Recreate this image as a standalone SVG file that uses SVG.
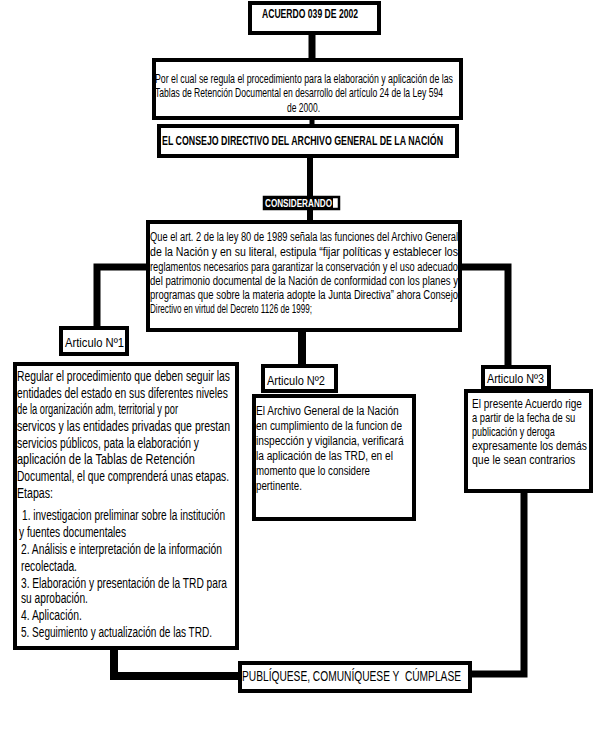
<svg xmlns="http://www.w3.org/2000/svg" width="606" height="744" viewBox="0 0 606 744">
<style>
.box{fill:#fff;stroke:#000;stroke-width:4}
.conn{fill:none;stroke:#000;stroke-linejoin:miter;stroke-linecap:butt}
text{font-family:"Liberation Sans",Arial,sans-serif;fill:#000}
.b{font-weight:bold}
.s12{font-size:12px}
.s125{font-size:12.5px}
.s13{font-size:13px}
.s14{font-size:14px}
</style>
<rect width="606" height="744" fill="#fff"/>
<g id="connectors">
<line class="conn" x1="312" y1="33" x2="312" y2="60" stroke-width="7"/>
<line class="conn" x1="312" y1="117" x2="312" y2="126" stroke-width="5"/>
<line class="conn" x1="310" y1="156" x2="310" y2="221" stroke-width="6"/>
<polyline class="conn" points="148,267 97,267 97,328" stroke-width="7"/>
<polyline class="conn" points="461,267 508,267 508,368" stroke-width="7"/>
<line class="conn" x1="302" y1="330" x2="302" y2="366" stroke-width="8"/>
<polyline class="conn" points="114,648 114,676 239,676" stroke-width="8"/>
<polyline class="conn" points="524,491 524,674 470,674" stroke-width="7"/>
</g>
<g id="acuerdo">
<rect class="box" x="250" y="3" width="129" height="30" stroke-width="5"/>
<text class="b s12" x="262" y="18" textLength="96" lengthAdjust="spacingAndGlyphs">ACUERDO 039 DE 2002</text>
</g>
<g id="por-el-cual">
<rect class="box" x="154" y="60" width="307" height="58" stroke-width="3.5"/>
<text class="s13" x="155" y="82.5" textLength="298" lengthAdjust="spacingAndGlyphs">Por el cual se regula el procedimiento para la elaboración y aplicación de las</text>
<text class="s13" x="155" y="97" textLength="288" lengthAdjust="spacingAndGlyphs">Tablas de Retención Documental en desarrollo del artículo 24 de la Ley 594</text>
<text class="s13" x="287" y="111.5" textLength="33" lengthAdjust="spacingAndGlyphs">de 2000.</text>
</g>
<g id="consejo">
<rect class="box" x="159" y="126" width="298" height="30" stroke-width="4.5"/>
<text class="b s13" x="162" y="145" textLength="281" lengthAdjust="spacingAndGlyphs">EL CONSEJO DIRECTIVO DEL ARCHIVO GENERAL DE LA NACIÓN</text>
</g>
<g id="considerando">
<rect x="264" y="197" width="75" height="12" fill="#fff" stroke="#000" stroke-width="2.5"/>
<rect x="263" y="196" width="70" height="14" fill="#000"/>
<text class="b" x="265" y="207" font-size="10.5" style="fill:#fff" textLength="67" lengthAdjust="spacingAndGlyphs">CONSIDERANDO</text>
</g>
<g id="que-el-art">
<rect class="box" x="148" y="222" width="312" height="108" stroke-width="4"/>
<text class="s12" x="150" y="240.5" textLength="308" lengthAdjust="spacingAndGlyphs">Que el art. 2 de la ley 80 de 1989 señala las funciones del Archivo General</text>
<text class="s12" x="150" y="255.5" textLength="308" lengthAdjust="spacingAndGlyphs">de la Nación y en su literal, estipula “fijar políticas y establecer los</text>
<text class="s12" x="150" y="270.5" textLength="308" lengthAdjust="spacingAndGlyphs">reglamentos necesarios para garantizar la conservación y el uso adecuado</text>
<text class="s12" x="150" y="285" textLength="308" lengthAdjust="spacingAndGlyphs">del patrimonio documental de la Nación de conformidad con los planes y</text>
<text class="s12" x="150" y="299" textLength="308" lengthAdjust="spacingAndGlyphs">programas que sobre la materia adopte la Junta Directiva” ahora Consejo</text>
<text class="s12" x="150" y="313" textLength="162" lengthAdjust="spacingAndGlyphs">Directivo en virtud del Decreto 1126 de 1999;</text>
</g>
<g id="articulo1-label">
<rect class="box" x="61" y="328" width="66" height="26" stroke-width="3.5"/>
<text class="s13" x="65" y="346.5" textLength="59" lengthAdjust="spacingAndGlyphs">Articulo Nº1</text>
</g>
<g id="articulo1">
<rect class="box" x="15" y="364" width="222" height="284" stroke-width="5"/>
<g transform="translate(17,0) scale(0.75,1)">
<text class="s14" x="0" y="381" textLength="284" lengthAdjust="spacingAndGlyphs">Regular el procedimiento que deben seguir las</text>
<text class="s14" x="0" y="398" textLength="281.3" lengthAdjust="spacingAndGlyphs">entidades del estado en sus diferentes niveles</text>
<text class="s14" x="0" y="414.5" textLength="214.7" lengthAdjust="spacingAndGlyphs">de la organización adm, territorial y por</text>
<text class="s14" x="0" y="431" textLength="284" lengthAdjust="spacingAndGlyphs">servicos y las entidades privadas que prestan</text>
<text class="s14" x="0" y="448" textLength="242.7" lengthAdjust="spacingAndGlyphs">servicios públicos, pata la elaboración y</text>
<text class="s14" x="0" y="464.5" textLength="237.3" lengthAdjust="spacingAndGlyphs">aplicación de la Tablas de Retención</text>
<text class="s14" x="0" y="481" textLength="282.7" lengthAdjust="spacingAndGlyphs">Documental, el que comprenderá unas etapas.</text>
<text class="s14" x="0" y="498" textLength="48" lengthAdjust="spacingAndGlyphs">Etapas:</text>
<text class="s14" x="6.7" y="520.5" textLength="270.7" lengthAdjust="spacingAndGlyphs">1. investigacion preliminar sobre la institución</text>
<text class="s14" x="2.7" y="537.5" textLength="142.7" lengthAdjust="spacingAndGlyphs">y fuentes documentales</text>
<text class="s14" x="5.3" y="554.5" textLength="268" lengthAdjust="spacingAndGlyphs">2. Análisis e interpretación de la información</text>
<text class="s14" x="5.3" y="571.5" textLength="74.7" lengthAdjust="spacingAndGlyphs">recolectada.</text>
<text class="s14" x="5.3" y="588" textLength="274.7" lengthAdjust="spacingAndGlyphs">3. Elaboración y presentación de la TRD para</text>
<text class="s14" x="5.3" y="603.5" textLength="89.3" lengthAdjust="spacingAndGlyphs">su aprobación.</text>
<text class="s14" x="5.3" y="620.5" textLength="81.3" lengthAdjust="spacingAndGlyphs">4. Aplicación.</text>
<text class="s14" x="5.3" y="637.5" textLength="254.7" lengthAdjust="spacingAndGlyphs">5. Seguimiento y actualización de las TRD.</text>
</g>
</g>
<g id="articulo2-label">
<rect class="box" x="263" y="366" width="73" height="25" stroke-width="3.5"/>
<text class="s13" x="267" y="384.5" textLength="58" lengthAdjust="spacingAndGlyphs">Articulo Nº2</text>
</g>
<g id="articulo2">
<rect class="box" x="254" y="396" width="160" height="123" stroke-width="4"/>
<g transform="translate(256,0) scale(0.82,1)">
<text class="s125" x="0" y="415" textLength="174" lengthAdjust="spacingAndGlyphs">El Archivo General de la Nación</text>
<text class="s125" x="0" y="430" textLength="178" lengthAdjust="spacingAndGlyphs">en cumplimiento de la funcion de</text>
<text class="s125" x="0" y="445" textLength="180" lengthAdjust="spacingAndGlyphs">inspección y vigilancia, verificará</text>
<text class="s125" x="0" y="460" textLength="167" lengthAdjust="spacingAndGlyphs">la aplicación de las TRD, en el</text>
<text class="s125" x="0" y="475" textLength="139" lengthAdjust="spacingAndGlyphs">momento que lo considere</text>
<text class="s125" x="0" y="490" textLength="56" lengthAdjust="spacingAndGlyphs">pertinente.</text>
</g>
</g>
<g id="articulo3-label">
<rect class="box" x="483" y="367" width="66" height="21" stroke-width="3.5"/>
<text class="s13" x="487" y="383" textLength="57" lengthAdjust="spacingAndGlyphs">Articulo Nº3</text>
</g>
<g id="articulo3">
<rect class="box" x="466" y="391" width="125" height="100" stroke-width="4"/>
<g transform="translate(472,0) scale(0.82,1)">
<text class="s12" x="0" y="408" textLength="134" lengthAdjust="spacingAndGlyphs">El presente Acuerdo rige</text>
<text class="s12" x="0" y="422" textLength="126" lengthAdjust="spacingAndGlyphs">a partir de la fecha de su</text>
<text class="s12" x="0" y="436" textLength="101" lengthAdjust="spacingAndGlyphs">publicación y deroga</text>
<text class="s12" x="0" y="450" textLength="140" lengthAdjust="spacingAndGlyphs">expresamente los demás</text>
<text class="s12" x="0" y="464" textLength="126" lengthAdjust="spacingAndGlyphs">que le sean contrarios</text>
</g>
</g>
<g id="publiquese">
<rect class="box" x="240" y="663" width="230" height="28" stroke-width="4"/>
<text class="s14" x="242" y="680.5" textLength="219" lengthAdjust="spacingAndGlyphs" xml:space="preserve">PUBLÍQUESE, COMUNÍQUESE Y  CÚMPLASE</text>
</g>
</svg>
